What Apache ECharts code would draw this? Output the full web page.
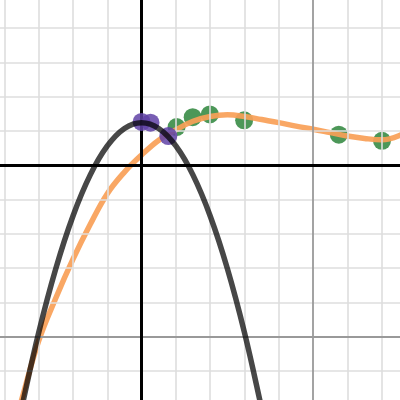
<!DOCTYPE html>
<html>
<head>
<meta charset="utf-8">
<script src="https://cdn.jsdelivr.net/npm/echarts@6/dist/echarts.min.js"></script>
<style>
html,body{margin:0;padding:0;background:#fff;}
#c{width:400px;height:400px;}
</style>
</head>
<body>
<div id="c"></div>
<script>
// Visible window (graph units)
var xMin = -4.128, xMax = 7.534;
var yMin = -6.845, yMax = 4.816;

// Grid lines
var minorX = [-4, -3, -2, -1, 1, 2, 3, 4, 6, 7];
var majorX = [5];
var minorY = [-6, -4, -3, -2, -1, 1, 2, 3, 4];
var majorY = [-5];

// Green points
var greenX = [1.02, 1.49, 1.99, 2.99, 5.75, 7.01, 7.6];
var greenY = [1.11, 1.40, 1.48, 1.31, 0.89, 0.71, 1.01];

// Purple points
var purpleX = [0.0, 0.26, 0.78];
var purpleY = [1.26, 1.24, 0.85];

// Orange curve
var orangeX = [-3.6, -3.5, -3.0, -2.5, -2.0, -1.5, -1.0, -0.5, 0.0, 0.5, 1.0, 1.5, 2.0, 2.5, 3.0, 3.5, 4.0, 4.5, 5.0, 5.5, 6.0, 6.5, 7.0, 7.5, 8.0];
var orangeY = [-7.21, -6.85, -5.12, -3.87, -2.74, -1.73, -0.83, -0.20, 0.30, 0.73, 1.03, 1.28, 1.42, 1.47, 1.42, 1.33, 1.24, 1.14, 1.05, 0.95, 0.85, 0.78, 0.74, 0.86, 1.15];

// Dark curve
var darkX = [-3.6, -3.5, -3.0, -2.5, -2.0, -1.5, -1.0, -0.5, 0.0, 0.5, 1.0, 1.5, 2.0, 2.5, 3.0, 3.5, 3.6];
var darkY = [-7.57, -7.09, -4.88, -3.01, -1.48, -0.29, 0.56, 1.07, 1.24, 1.07, 0.56, -0.29, -1.48, -3.01, -4.88, -7.09, -7.57];

function zip(a, b) { return a.map(function (v, i) { return [v, b[i]]; }); }

var minorStyle = { color: '#dedede', width: 1.6, type: 'solid', opacity: 1 };
var majorStyle = { color: '#999999', width: 1.8, type: 'solid', opacity: 1 };
var axisStyle = { color: '#000000', width: 3, type: 'solid', opacity: 1 };

var gridData = []
  .concat(minorX.map(function (v) { return { xAxis: v, lineStyle: minorStyle }; }))
  .concat(minorY.map(function (v) { return { yAxis: v, lineStyle: minorStyle }; }))
  .concat(majorX.map(function (v) { return { xAxis: v, lineStyle: majorStyle }; }))
  .concat(majorY.map(function (v) { return { yAxis: v, lineStyle: majorStyle }; }))
  .concat([{ xAxis: 0, lineStyle: axisStyle }, { yAxis: 0, lineStyle: axisStyle }]);

var chart = echarts.init(document.getElementById('c'), null, { renderer: 'canvas' });
chart.setOption({
  animation: false,
  backgroundColor: '#ffffff',
  grid: { left: 0, right: 0, top: 0, bottom: 0 },
  xAxis: {
    type: 'value', min: xMin, max: xMax,
    axisLine: { show: false }, axisTick: { show: false },
    axisLabel: { show: false }, splitLine: { show: false }
  },
  yAxis: {
    type: 'value', min: yMin, max: yMax,
    axisLine: { show: false }, axisTick: { show: false },
    axisLabel: { show: false }, splitLine: { show: false }
  },
  series: [
    {
      type: 'line', data: [], silent: true, z: 1,
      markLine: {
        silent: true, symbol: ['none', 'none'], animation: false,
        label: { show: false },
        emphasis: { disabled: true },
        data: gridData
      }
    },
    {
      type: 'scatter', data: zip(greenX, greenY), z: 3,
      symbolSize: 18,
      itemStyle: { color: '#388c46', opacity: 0.9 },
      silent: true
    },
    {
      type: 'line', data: zip(orangeX, orangeY), z: 4,
      smooth: 0.4, showSymbol: false, clip: true,
      lineStyle: { color: '#f9a057', width: 5.5, opacity: 0.92, cap: 'round', join: 'round' },
      silent: true
    },
    {
      type: 'scatter', data: zip(purpleX, purpleY), z: 5,
      symbolSize: 18,
      itemStyle: { color: '#6042a6', opacity: 0.85 },
      silent: true
    },
    {
      type: 'line', data: zip(darkX, darkY), z: 6,
      smooth: 0.4, showSymbol: false, clip: true,
      lineStyle: { color: '#000000', width: 5.5, opacity: 0.72, cap: 'round', join: 'round' },
      silent: true
    }
  ]
});
</script>
</body>
</html>
